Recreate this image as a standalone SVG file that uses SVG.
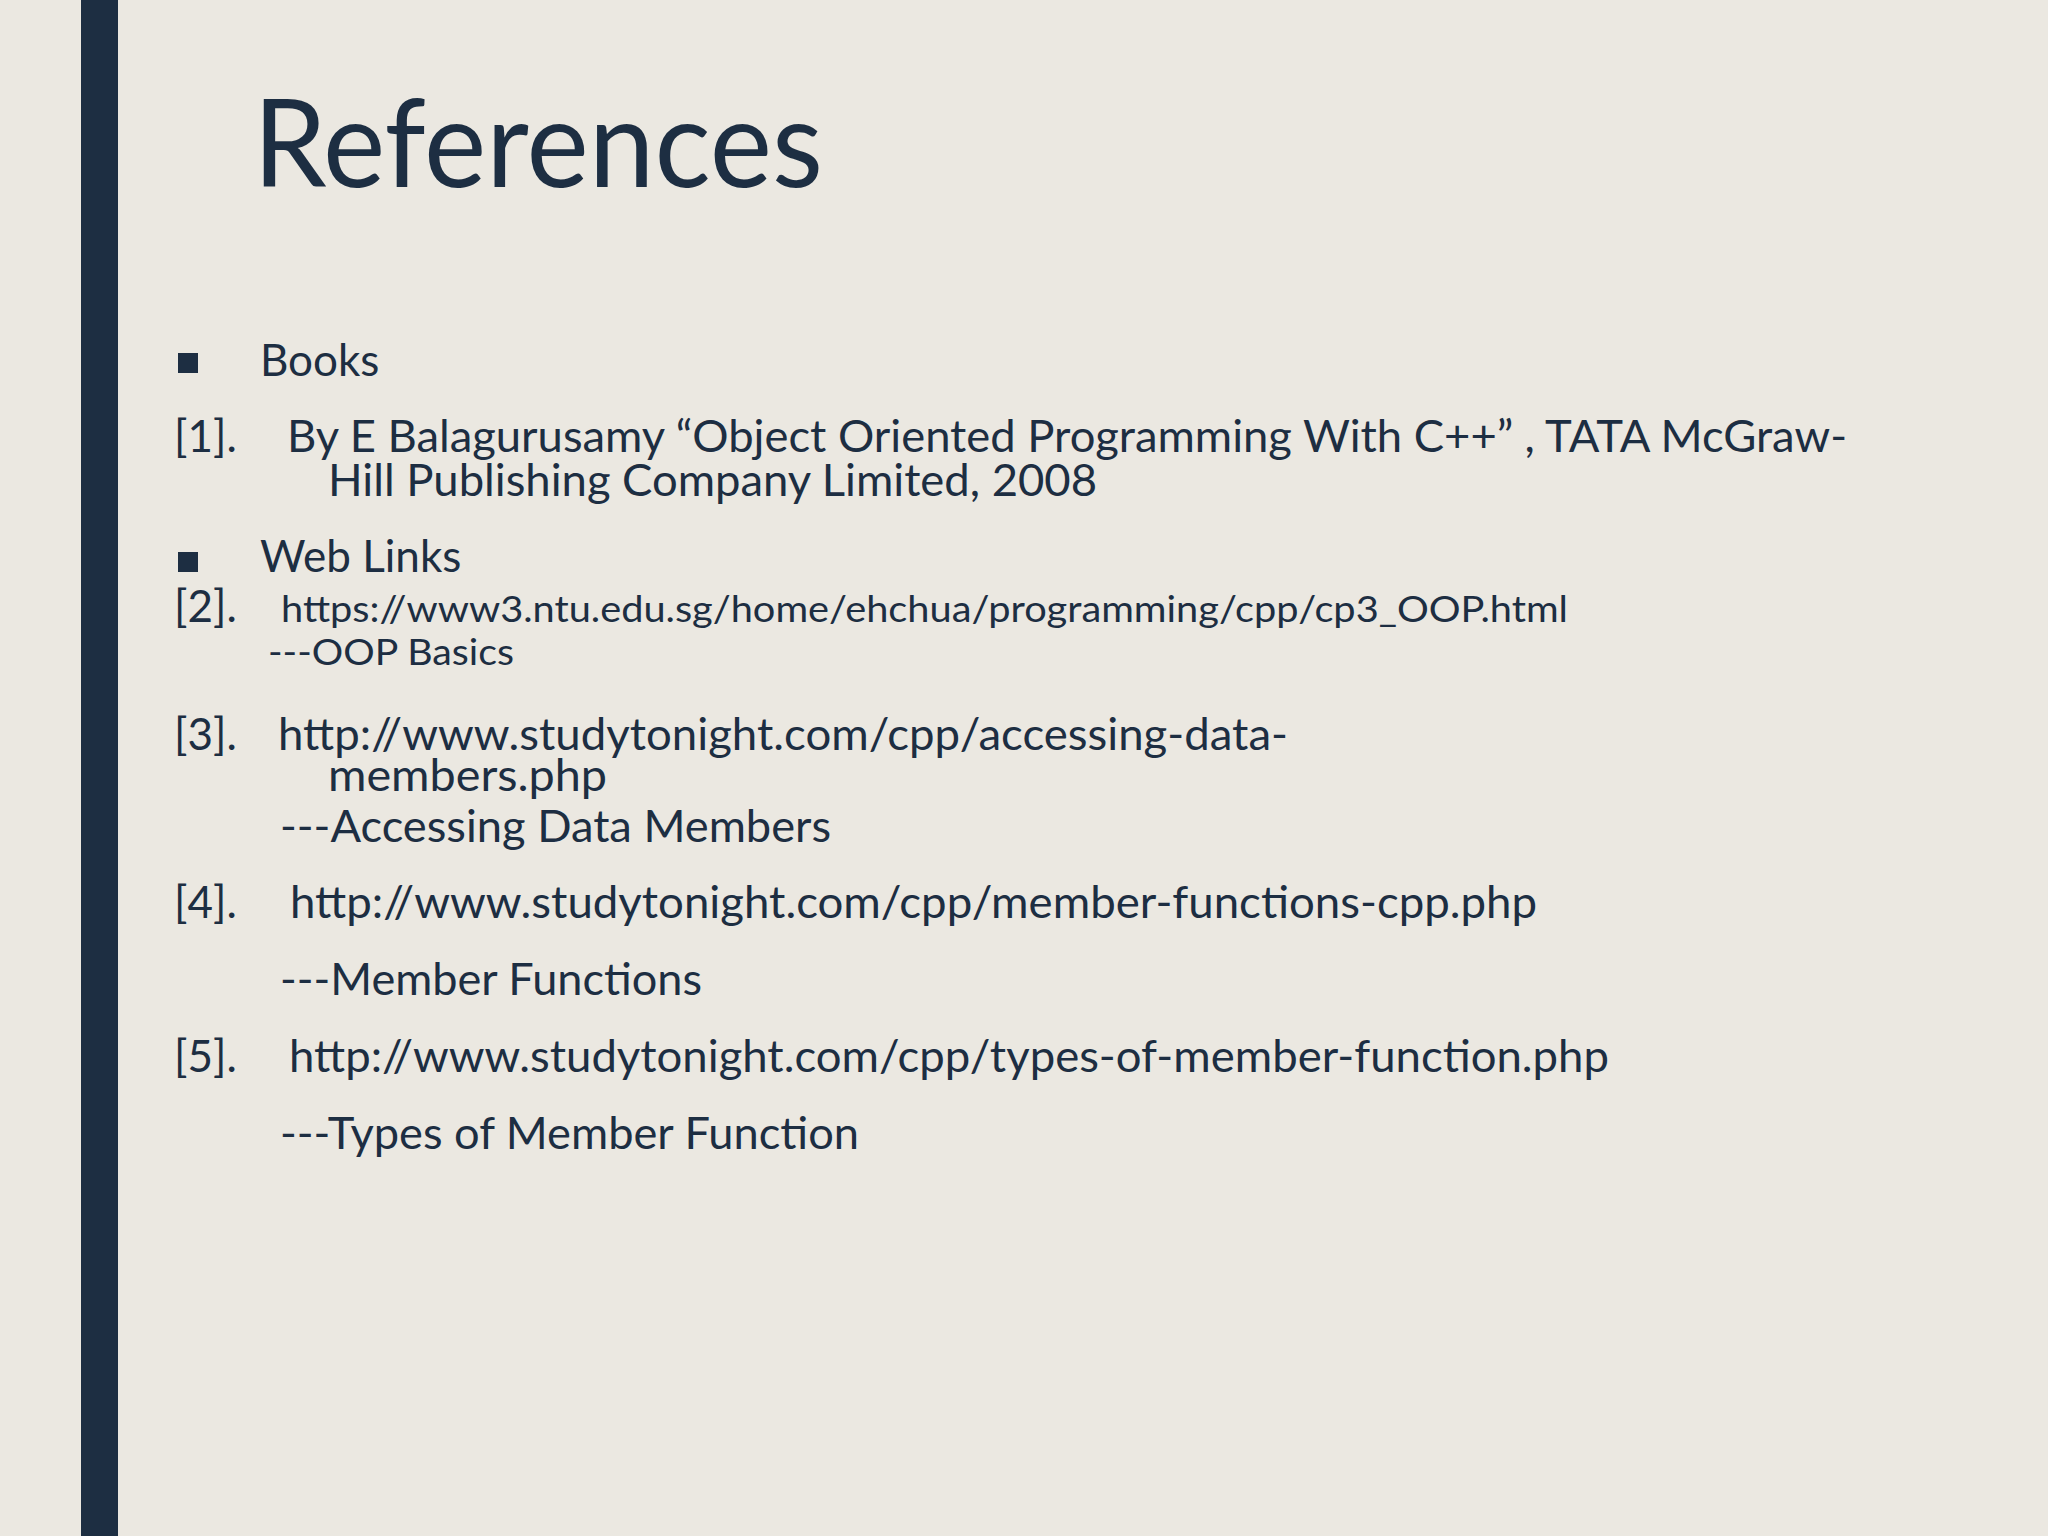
<svg xmlns="http://www.w3.org/2000/svg" width="2048" height="1536" viewBox="0 0 2048 1536">
<style>
text{font-family:Lato,"Open Sans","Liberation Sans",sans-serif;fill:#1d2e42}
.b{font-size:44px}
.s{font-size:37px}
</style>
<rect width="2048" height="1536" fill="#ebe8e1"/>
<rect x="81" y="0" width="37" height="1536" fill="#1d2e42"/>
<text x="253" y="187" font-size="122" textLength="570" lengthAdjust="spacingAndGlyphs">References</text>
<g id="books">
<rect x="178" y="353" width="20" height="20" fill="#1d2e42"/>
<text class="b" x="260" y="376">Books</text>
<text class="b" x="174" y="452">[1].</text>
<text class="b" x="287" y="452" textLength="1560" lengthAdjust="spacingAndGlyphs">By E Balagurusamy “Object Oriented Programming With C++” , TATA McGraw-</text>
<text class="b" x="328" y="496" textLength="769" lengthAdjust="spacingAndGlyphs">Hill Publishing Company Limited, 2008</text>
</g>
<g id="web">
<rect x="178" y="552" width="20" height="20" fill="#1d2e42"/>
<text class="b" x="260" y="572">Web Links</text>
<text class="b" x="174" y="622">[2].</text>
<text class="s" x="281" y="622" textLength="1287" lengthAdjust="spacingAndGlyphs">https://www3.ntu.edu.sg/home/ehchua/programming/cpp/cp3_OOP.html</text>
<text class="s" x="268" y="665" textLength="246" lengthAdjust="spacingAndGlyphs">---OOP Basics</text>
<text class="b" x="174" y="750">[3].</text>
<text class="b" x="278" y="750" textLength="1010" lengthAdjust="spacingAndGlyphs">http://www.studytonight.com/cpp/accessing-data-</text>
<text class="b" x="328" y="791" textLength="279" lengthAdjust="spacingAndGlyphs">members.php</text>
<text class="b" x="280" y="842" textLength="551" lengthAdjust="spacingAndGlyphs">---Accessing Data Members</text>
<text class="b" x="174" y="918">[4].</text>
<text class="b" x="290" y="918" textLength="1247" lengthAdjust="spacingAndGlyphs">http://www.studytonight.com/cpp/member-functions-cpp.php</text>
<text class="b" x="280" y="995" textLength="422" lengthAdjust="spacingAndGlyphs">---Member Functions</text>
<text class="b" x="174" y="1072">[5].</text>
<text class="b" x="289" y="1072" textLength="1320" lengthAdjust="spacingAndGlyphs">http://www.studytonight.com/cpp/types-of-member-function.php</text>
<text class="b" x="280" y="1149" textLength="579" lengthAdjust="spacingAndGlyphs">---Types of Member Function</text>
</g>
</svg>
